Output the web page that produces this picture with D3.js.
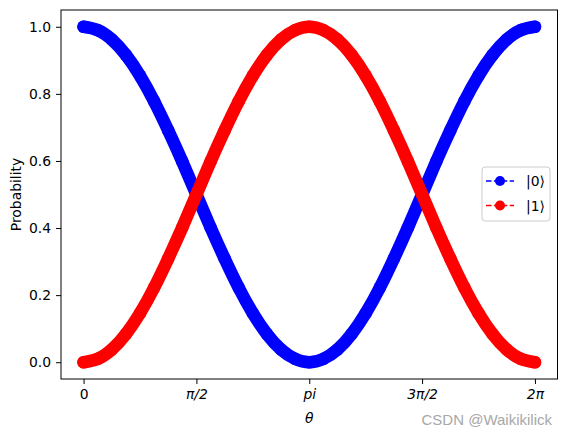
<!DOCTYPE html>
<html>
<head>
<meta charset="utf-8">
<script src="https://cdn.jsdelivr.net/npm/d3@7"></script>
<style>
  body { margin: 0; background: #fff; }
  text { font-family: "DejaVu Sans", sans-serif; }
</style>
</head>
<body>
<svg id="chart" width="567" height="437"></svg>
<script>
// theta in units of pi, read every pi/16
var thetaPi = [0, 0.0625, 0.125, 0.1875, 0.25, 0.3125, 0.375, 0.4375, 0.5, 0.5625, 0.625, 0.6875, 0.75, 0.8125, 0.875, 0.9375, 1,
  1.0625, 1.125, 1.1875, 1.25, 1.3125, 1.375, 1.4375, 1.5, 1.5625, 1.625, 1.6875, 1.75, 1.8125, 1.875, 1.9375, 2];
var prob0 = [1.000, 0.990, 0.962, 0.916, 0.854, 0.778, 0.691, 0.598, 0.500, 0.402, 0.309, 0.222, 0.146, 0.084, 0.038, 0.010, 0.000,
  0.010, 0.038, 0.084, 0.146, 0.222, 0.309, 0.402, 0.500, 0.598, 0.691, 0.778, 0.854, 0.916, 0.962, 0.990, 1.000];
var prob1 = [0.000, 0.010, 0.038, 0.084, 0.146, 0.222, 0.309, 0.402, 0.500, 0.598, 0.691, 0.778, 0.854, 0.916, 0.962, 0.990, 1.000,
  0.990, 0.962, 0.916, 0.854, 0.778, 0.691, 0.598, 0.500, 0.402, 0.309, 0.222, 0.146, 0.084, 0.038, 0.010, 0.000];
var xTicks = [0, 0.5, 1, 1.5, 2];
var xTickLabels = ["0", "π/2", "pi", "3π/2", "2π"];
var yTicks = [0, 0.2, 0.4, 0.6, 0.8, 1.0];
var seriesNames = ["|0⟩", "|1⟩"];
var seriesColors = ["#0000ff", "#ff0000"];

var svg = d3.select("#chart");
var plot = { left: 61, right: 557.5, top: 10, bottom: 379 };

var x = d3.scaleLinear().domain([-0.1, 2.1]).range([plot.left, plot.right]);
var y = d3.scaleLinear().domain([-0.05, 1.05]).range([plot.bottom, plot.top]);

var series = [prob0, prob1];
var line = d3.line().curve(d3.curveNatural)
  .x(function(d, i) { return x(thetaPi[i]); })
  .y(function(d) { return y(d); });

series.forEach(function(s, k) {
  var g = svg.append("g");
  g.append("path")
    .attr("d", line(s))
    .attr("fill", "none")
    .attr("stroke", seriesColors[k])
    .attr("stroke-width", 12.6)
    .attr("stroke-linecap", "round")
    .attr("stroke-linejoin", "round");
  g.selectAll("circle").data(s).enter().append("circle")
    .attr("cx", function(d, i) { return x(thetaPi[i]); })
    .attr("cy", function(d) { return y(d); })
    .attr("r", 6.3)
    .attr("fill", seriesColors[k]);
});

// frame
svg.append("rect")
  .attr("x", plot.left).attr("y", plot.top)
  .attr("width", plot.right - plot.left).attr("height", plot.bottom - plot.top)
  .attr("fill", "none").attr("stroke", "#000").attr("stroke-width", 1);

var xAxis = svg.append("g")
  .attr("transform", "translate(0," + plot.bottom + ")")
  .call(d3.axisBottom(x).tickValues(xTicks).tickSize(5).tickPadding(5)
    .tickFormat(function(d, i) { return xTickLabels[i]; }));
xAxis.select(".domain").remove();
xAxis.selectAll("text").attr("font-size", 13.9).attr("fill", "#000")
  .style("font-style", function(d, i) { return i === 0 ? "normal" : "italic"; });

var yAxis = svg.append("g")
  .attr("transform", "translate(" + plot.left + ",0)")
  .call(d3.axisLeft(y).tickValues(yTicks).tickSize(5).tickPadding(5).tickFormat(d3.format(".1f")));
yAxis.select(".domain").remove();
yAxis.selectAll("text").attr("font-size", 13.9).attr("fill", "#000");

svg.append("text")
  .attr("x", x(1)).attr("y", 423)
  .attr("text-anchor", "middle").attr("font-size", 13.9)
  .style("font-style", "italic")
  .text("θ");

svg.append("text")
  .attr("transform", "translate(21," + ((plot.top + plot.bottom) / 2) + ") rotate(-90)")
  .attr("text-anchor", "middle").attr("font-size", 13.9)
  .text("Probability");

// legend
var legend = svg.append("g").attr("transform", "translate(482,167)");
legend.append("rect")
  .attr("width", 68).attr("height", 54).attr("rx", 3)
  .attr("fill", "#fff").attr("fill-opacity", 0.8)
  .attr("stroke", "#ccc");
seriesNames.forEach(function(name, k) {
  var row = legend.append("g").attr("transform", "translate(0," + (14 + k * 24.5) + ")");
  row.append("line")
    .attr("x1", 4).attr("x2", 32)
    .attr("stroke", seriesColors[k]).attr("stroke-width", 1.5)
    .attr("stroke-dasharray", "5.5,2.4");
  row.append("circle").attr("cx", 18).attr("r", 5).attr("fill", seriesColors[k]);
  row.append("text")
    .attr("x", 44).attr("y", 5)
    .attr("font-size", 13.9)
    .text(name);
});

svg.append("text")
  .attr("x", 552).attr("y", 425)
  .attr("text-anchor", "end")
  .attr("font-size", 15)
  .attr("fill", "#a8a8a8")
  .style("font-family", "'Liberation Sans', Arial, sans-serif")
  .text("CSDN @Waikikilick");
</script>
</body>
</html>
